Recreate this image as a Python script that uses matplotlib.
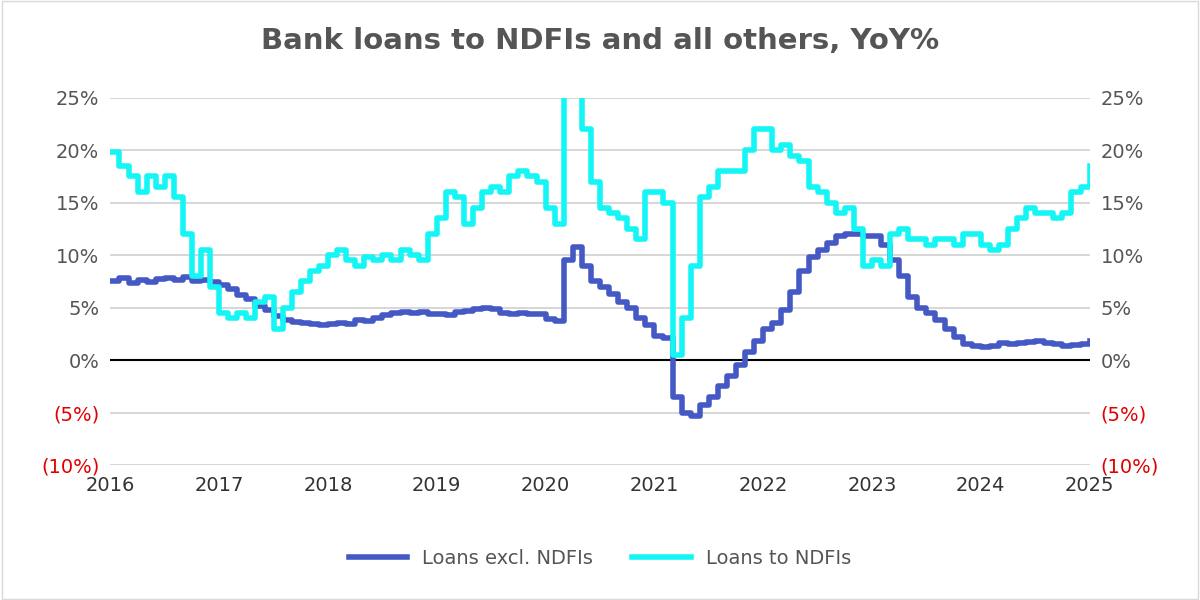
import matplotlib
matplotlib.use("Agg")
import matplotlib.pyplot as plt
import numpy as np

excl = [7.5,7.8,7.3,7.6,7.4,7.7,7.8,7.6,7.9,7.5,7.6,7.4,
        7.2,6.8,6.2,5.8,5.2,4.8,4.2,3.8,3.6,3.5,3.4,3.3,
        3.4,3.5,3.4,3.8,3.7,4.0,4.3,4.5,4.6,4.5,4.6,4.4,
        4.4,4.3,4.6,4.7,4.9,5.0,4.9,4.5,4.4,4.5,4.4,4.4,
        3.9,3.7,9.5,10.8,9.0,7.5,7.0,6.3,5.5,5.0,4.0,3.3,
        2.3,2.1,-3.5,-5.0,-5.3,-4.3,-3.5,-2.5,-1.5,-0.5,0.8,1.8,
        3.0,3.5,4.8,6.5,8.5,9.8,10.5,11.2,11.8,12.0,12.0,11.8,
        11.8,11.0,9.5,8.0,6.0,5.0,4.5,3.8,3.0,2.2,1.5,1.3,
        1.2,1.3,1.6,1.5,1.6,1.7,1.8,1.6,1.5,1.3,1.4,1.5,
        1.8]
ndfi = [19.8,18.5,17.5,16.0,17.5,16.5,17.5,15.5,12.0,8.0,10.5,7.0,
        4.5,4.0,4.5,4.0,5.5,6.0,3.0,5.0,6.5,7.5,8.5,9.0,
        10.0,10.5,9.5,9.0,9.8,9.5,10.0,9.5,10.5,10.0,9.5,12.0,
        13.5,16.0,15.5,13.0,14.5,16.0,16.5,16.0,17.5,18.0,17.5,17.0,
        14.5,13.0,30.0,30.0,22.0,17.0,14.5,14.0,13.5,12.5,11.5,16.0,
        16.0,15.0,0.5,4.0,9.0,15.5,16.5,18.0,18.0,18.0,20.0,22.0,
        22.0,20.0,20.5,19.5,19.0,16.5,16.0,15.0,14.0,14.5,12.5,9.0,
        9.5,9.0,12.0,12.5,11.5,11.5,11.0,11.5,11.5,11.0,12.0,12.0,
        11.0,10.5,11.0,12.5,13.5,14.5,14.0,14.0,13.5,14.0,16.0,16.5,
        18.5]
years = list(range(2016, 2026))
yticks = [-10, -5, 0, 5, 10, 15, 20, 25]

t = 2016 + np.arange(len(excl)) / 12

fig = plt.figure(figsize=(12, 6), dpi=100)
ax = fig.add_axes([0.092, 0.225, 0.816, 0.612])
ax.plot(t, excl, drawstyle="steps-post", color="#4459C4", lw=4, label="Loans excl. NDFIs", zorder=3)
ax.plot(t, ndfi, drawstyle="steps-post", color="#14F5F5", lw=4, label="Loans to NDFIs", zorder=3)
ax.set_xlim(2016, 2025)
ax.set_ylim(-10, 25)
ax.set_xticks(years)
ax.set_xticklabels([str(y) for y in years], fontsize=14, color="#333333")
ax.set_yticks(yticks)
def lab(v):
    return f"({abs(v)}%)" if v < 0 else f"{v}%"
ax.set_yticklabels([lab(v) for v in yticks], fontsize=14)
for tl, v in zip(ax.get_yticklabels(), yticks):
    tl.set_color("#E00000" if v < 0 else "#555555")
ax.grid(axis="y", color="#D0D0D0", lw=1.2)
ax.axhline(0, color="black", lw=1.5, zorder=2)
for s in ax.spines.values():
    s.set_visible(False)
ax.tick_params(length=0, pad=8)
ax2 = ax.twinx()
ax2.set_ylim(-10, 25)
ax2.set_yticks(yticks)
ax2.set_yticklabels([lab(v) for v in yticks], fontsize=14)
for tl, v in zip(ax2.get_yticklabels(), yticks):
    tl.set_color("#E00000" if v < 0 else "#555555")
for s in ax2.spines.values():
    s.set_visible(False)
ax2.tick_params(length=0, pad=8)
fig.suptitle("Bank loans to NDFIs and all others, YoY%", fontsize=21, fontweight="bold",
             color="#555555", y=0.955)
fig.legend(loc="lower center", bbox_to_anchor=(0.5, 0.025), ncol=2, frameon=False,
           fontsize=14, handlelength=3, columnspacing=2, labelcolor="#555555")
fig.patches.append(plt.Rectangle((0.002, 0.002), 0.996, 0.996, transform=fig.transFigure,
                                 fill=False, edgecolor="#D9D9D9", lw=1))
fig.savefig("out.png", dpi=100)
